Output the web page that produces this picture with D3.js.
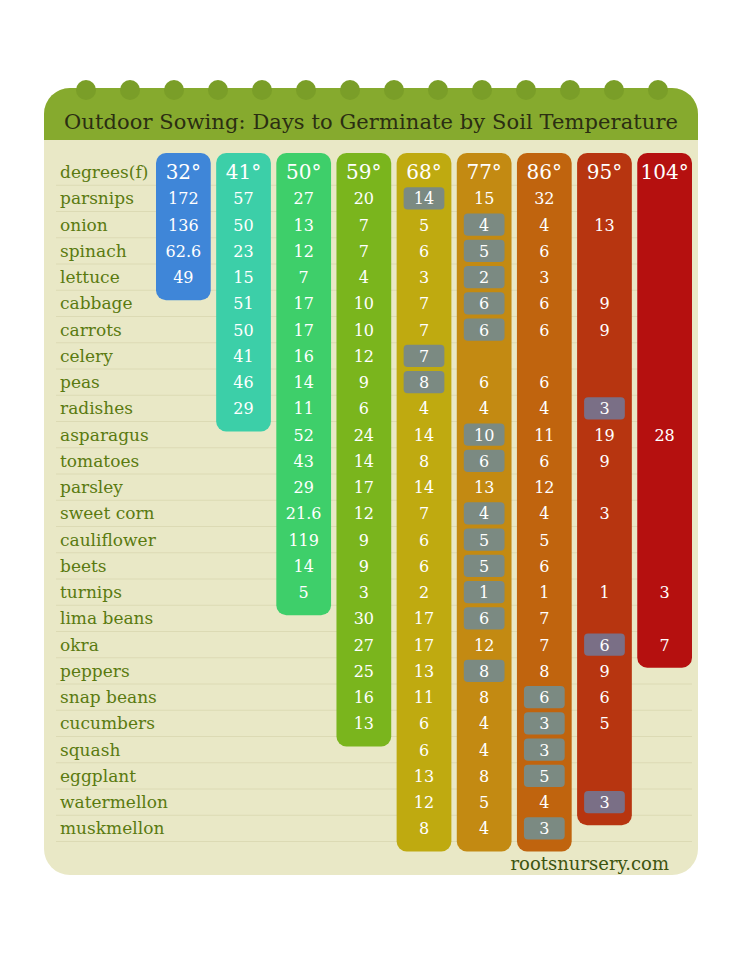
<!DOCTYPE html>
<meta charset="utf-8">
<title>Outdoor Sowing</title>
<style>
  body { margin: 0; background: #fff; }
  text { font-family: "DejaVu Serif", serif; }
  .lbl { fill: #5a7a10; font-size: 17px; }
  .val { fill: #fff; font-size: 16px; text-anchor: middle; }
  .hdr { fill: #fff; font-size: 20px; text-anchor: middle; }
</style>
<body>
<script src="https://d3js.org/d3.v7.min.js"></script>
<script>

var width = 742, height = 960;

var temps = ["32°", "41°", "50°", "59°", "68°", "77°", "86°", "95°", "104°"];
var colors = ["#3f86d8", "#3ccfa8", "#3ecf6a", "#7ab51d", "#bfaa10", "#c38a12", "#c0640e", "#b73510", "#b5100f"];
var crops = ["parsnips", "onion", "spinach", "lettuce", "cabbage", "carrots", "celery", "peas", "radishes",
  "asparagus", "tomatoes", "parsley", "sweet corn", "cauliflower", "beets", "turnips", "lima beans", "okra",
  "peppers", "snap beans", "cucumbers", "squash", "eggplant", "watermellon", "muskmellon"];
// days per crop, one entry per temperature; null = not listed
var days = [
  [172, 57, 27, 20, 14, 15, 32, null, null],
  [136, 50, 13, 7, 5, 4, 4, 13, null],
  [62.6, 23, 12, 7, 6, 5, 6, null, null],
  [49, 15, 7, 4, 3, 2, 3, null, null],
  [null, 51, 17, 10, 7, 6, 6, 9, null],
  [null, 50, 17, 10, 7, 6, 6, 9, null],
  [null, 41, 16, 12, 7, null, null, null, null],
  [null, 46, 14, 9, 8, 6, 6, null, null],
  [null, 29, 11, 6, 4, 4, 4, 3, null],
  [null, null, 52, 24, 14, 10, 11, 19, 28],
  [null, null, 43, 14, 8, 6, 6, 9, null],
  [null, null, 29, 17, 14, 13, 12, null, null],
  [null, null, 21.6, 12, 7, 4, 4, 3, null],
  [null, null, 119, 9, 6, 5, 5, null, null],
  [null, null, 14, 9, 6, 5, 6, null, null],
  [null, null, 5, 3, 2, 1, 1, 1, 3],
  [null, null, null, 30, 17, 6, 7, null, null],
  [null, null, null, 27, 17, 12, 7, 6, 7],
  [null, null, null, 25, 13, 8, 8, 9, null],
  [null, null, null, 16, 11, 8, 6, 6, null],
  [null, null, null, 13, 6, 4, 3, 5, null],
  [null, null, null, null, 6, 4, 3, null, null],
  [null, null, null, null, 13, 8, 5, null, null],
  [null, null, null, null, 12, 5, 4, 3, null],
  [null, null, null, null, 8, 4, 3, null, null]
];
// optimal cells (crop index, temp index)
var best = [[0,4],[1,5],[2,5],[3,5],[4,5],[5,5],[6,4],[7,4],[8,7],[9,5],[10,5],[12,5],[13,5],[14,5],
  [15,5],[16,5],[17,7],[18,5],[19,6],[20,6],[21,6],[22,6],[23,7],[24,6]];
// last row index each temperature column reaches
var lastRow = [3, 8, 15, 20, 24, 24, 24, 23, 17];

var svg = d3.select("body").append("svg").attr("width", width).attr("height", height);

var x = d3.scaleBand().domain(temps).range([156, 692]).paddingInner(0.09);
var y = d3.scaleBand().domain(["degrees(f)"].concat(crops)).range([159, 159 + 26.25 * 26]);

// panel
svg.append("rect").attr("x", 44).attr("y", 88).attr("width", 654).attr("height", 787)
  .attr("rx", 26).attr("fill", "#e9e8c6");
svg.append("path").attr("d", "M44,140 V114 a26,26 0 0 1 26,-26 H672 a26,26 0 0 1 26,26 V140 Z").attr("fill", "#86aa2e");
svg.selectAll(".scallop").data(d3.range(14)).enter().append("circle")
  .attr("cx", function(d) { return 86 + d * 44; }).attr("cy", 90).attr("r", 10).attr("fill", "#7a9e28");
svg.append("text").attr("x", 371).attr("y", 129).attr("text-anchor", "middle")
  .style("font-size", "21px").attr("fill", "#2b2e12").attr("textLength", 614)
  .text("Outdoor Sowing: Days to Germinate by Soil Temperature");

// row lines
svg.selectAll(".rl").data(y.domain()).enter().append("line")
  .attr("x1", 56).attr("x2", 692)
  .attr("y1", function(d) { return y(d) + y.bandwidth(); }).attr("y2", function(d) { return y(d) + y.bandwidth(); })
  .attr("stroke", "#dcdab4").attr("stroke-width", 1);

// column bars
svg.selectAll(".bar").data(temps).enter().append("rect")
  .attr("x", function(d) { return x(d); }).attr("width", x.bandwidth())
  .attr("y", y("degrees(f)") - 6)
  .attr("height", function(d, i) { return y(crops[lastRow[i]]) + y.bandwidth() + 16 - y("degrees(f)"); })
  .attr("rx", 10).attr("fill", function(d, i) { return colors[i]; });

svg.selectAll(".hdr").data(temps).enter().append("text").attr("class", "hdr")
  .attr("x", function(d) { return x(d) + x.bandwidth() / 2; })
  .attr("y", y("degrees(f)") + 20).text(function(d) { return d; });

// highlight boxes
svg.selectAll(".best").data(best).enter().append("rect")
  .attr("x", function(d) { return x(temps[d[1]]) + 7; }).attr("width", x.bandwidth() - 14)
  .attr("y", function(d) { return y(crops[d[0]]) + 2; }).attr("height", y.bandwidth() - 4)
  .attr("rx", 4).attr("fill", function(d) { return d[1] === 7 ? "#7a6f86" : "#7b8a82"; });

// labels
svg.selectAll(".lbl").data(y.domain()).enter().append("text").attr("class", "lbl")
  .attr("x", 60).attr("y", function(d) { return y(d) + 19; }).text(function(d) { return d; });

// values
var cells = [];
days.forEach(function(row, r) {
  row.forEach(function(v, c) { if (v !== null) cells.push({ r: r, c: c, v: v }); });
});
svg.selectAll(".val").data(cells).enter().append("text").attr("class", "val")
  .attr("x", function(d) { return x(temps[d.c]) + x.bandwidth() / 2; })
  .attr("y", function(d) { return y(crops[d.r]) + 19; })
  .text(function(d) { return d.v; });

svg.append("text").attr("x", 669).attr("y", 870).attr("text-anchor", "end")
  .style("font-size", "18px").attr("fill", "#3d5410").text("rootsnursery.com");

</script>
</body>
